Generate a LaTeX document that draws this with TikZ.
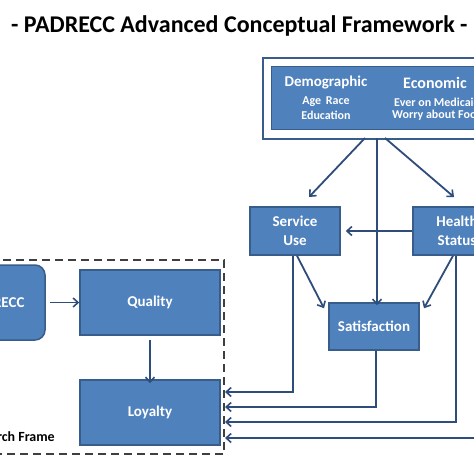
\documentclass[tikz,border=0pt]{standalone}
\usepackage{fontspec}
\setmainfont{Carlito}
\usetikzlibrary{arrows.meta}
\definecolor{boxfill}{HTML}{4F81BD}
\definecolor{boxline}{HTML}{385D8A}
\definecolor{conn}{HTML}{2E4D7B}
\definecolor{frame}{HTML}{3F3F3F}
\tikzset{
  blk/.style={draw=boxline, line width=1.5pt, fill=boxfill, text=white, font=\bfseries\fontsize{15}{17}\selectfont, align=center, inner sep=0pt},
  arr/.style={draw=conn, line width=1.8pt, -{Straight Barb[length=5pt,width=9pt,line width=1.6pt]}},
  ln/.style={draw=conn, line width=1.8pt},
  smalltxt/.style={text=white, font=\bfseries\fontsize{12}{14}\selectfont, inner sep=0pt},
  bigtxt/.style={text=white, font=\bfseries\fontsize{15}{17}\selectfont, inner sep=0pt}
}
\begin{document}
\begin{tikzpicture}[x=1pt,y=-1pt]
\useasboundingbox (0,0) rectangle (474,474);
\clip (0,0) rectangle (474,474);
\fill[white] (0,0) rectangle (474,474);
% title
\node[font=\bfseries\fontsize{24}{27}\selectfont, anchor=west, inner sep=0pt] (title) at (11,26) {- PADRECC Advanced Conceptual Framework -};
% top box
\node[draw=boxline, line width=1.8pt, fill=white, minimum width=240pt, minimum height=81pt, anchor=north west, inner sep=0pt] (top) at (262,57) {};
\node[fill=boxfill, draw=boxline, line width=0.6pt, minimum width=222pt, minimum height=63pt, anchor=north west, inner sep=0pt] (topin) at (271,66) {};
\node[bigtxt] (demo) at (326,83) {Demographic};
\node[smalltxt] (demo1) at (326,102) {Age\, Race};
\node[smalltxt] (demo2) at (326,115) {Education};
\node[bigtxt, font=\bfseries\fontsize{16}{18}\selectfont] (econ) at (435,83) {Economic};
\node[smalltxt, anchor=west] (econ1) at (394,102) {Ever on Medicaid};
\node[smalltxt, anchor=west] (econ2) at (392,115) {Worry about Food};
% middle boxes
\node[blk, minimum width=90pt, minimum height=48pt] (su) at (295,231) {Service\\[2pt]Use};
\node[blk, minimum width=88pt, minimum height=48pt] (hs) at (457,231) {Health\\[2pt]Status};
\node[blk, minimum width=90pt, minimum height=47pt] (sat) at (374,326.5) {Satisfaction};
% left part
\draw[frame, line width=1.6pt, dash pattern=on 8pt off 5pt] (-10,260) -- (224,260) -- (224,454) -- (-10,454);
\node[blk, rounded corners=10pt, minimum width=98pt, minimum height=75pt] (pad) at (-4,302.5) {PADRECC};
\node[blk, minimum width=140pt, minimum height=65pt] (qual) at (150,302.5) {Quality};
\node[blk, minimum width=140pt, minimum height=65pt] (loy) at (150,412.5) {Loyalty};
\node[font=\bfseries\fontsize{14}{16}\selectfont, anchor=east, inner sep=0pt] (rf) at (55,437) {Research Frame};
% connectors
\draw[arr] (pad.east) ++(4,0) coordinate (pe) (pe) -- (qual.west);
\draw[arr] (qual.south) ++(0,4) coordinate (qs) (qs) -- ([yshift=-4pt]loy.north);
\coordinate (t1) at (365,138);
\coordinate (t2) at (385,138);
\coordinate (t3) at (377,138);
\draw[arr] (t1) -- (309,197);
\draw[arr] (t2) -- (454,197);
\draw[arr] (t3) -- ([yshift=-3pt]sat.north -| t3);
\draw[arr] (hs.west) -- ([xshift=5pt]su.east);
\draw[arr] ([xshift=2pt]su.south) -- ([xshift=-50pt,yshift=-6pt]sat.north);
\draw[arr] ([xshift=-4pt]hs.south) -- ([xshift=50pt,yshift=-6pt]sat.north);
\coordinate (la) at (225,392);
\coordinate (lb) at (225,407);
\coordinate (lc) at (225,422);
\coordinate (ld) at (225,438);
\coordinate (re) at (480,438);
\draw[arr] ([xshift=-2pt]su.south) |- (la);
\draw[arr] ([xshift=2pt]sat.south) |- (lb);
\draw[arr] ([xshift=-1pt]hs.south) |- (lc);
\draw[arr] (re) -- (ld);
\end{tikzpicture}
\end{document}
